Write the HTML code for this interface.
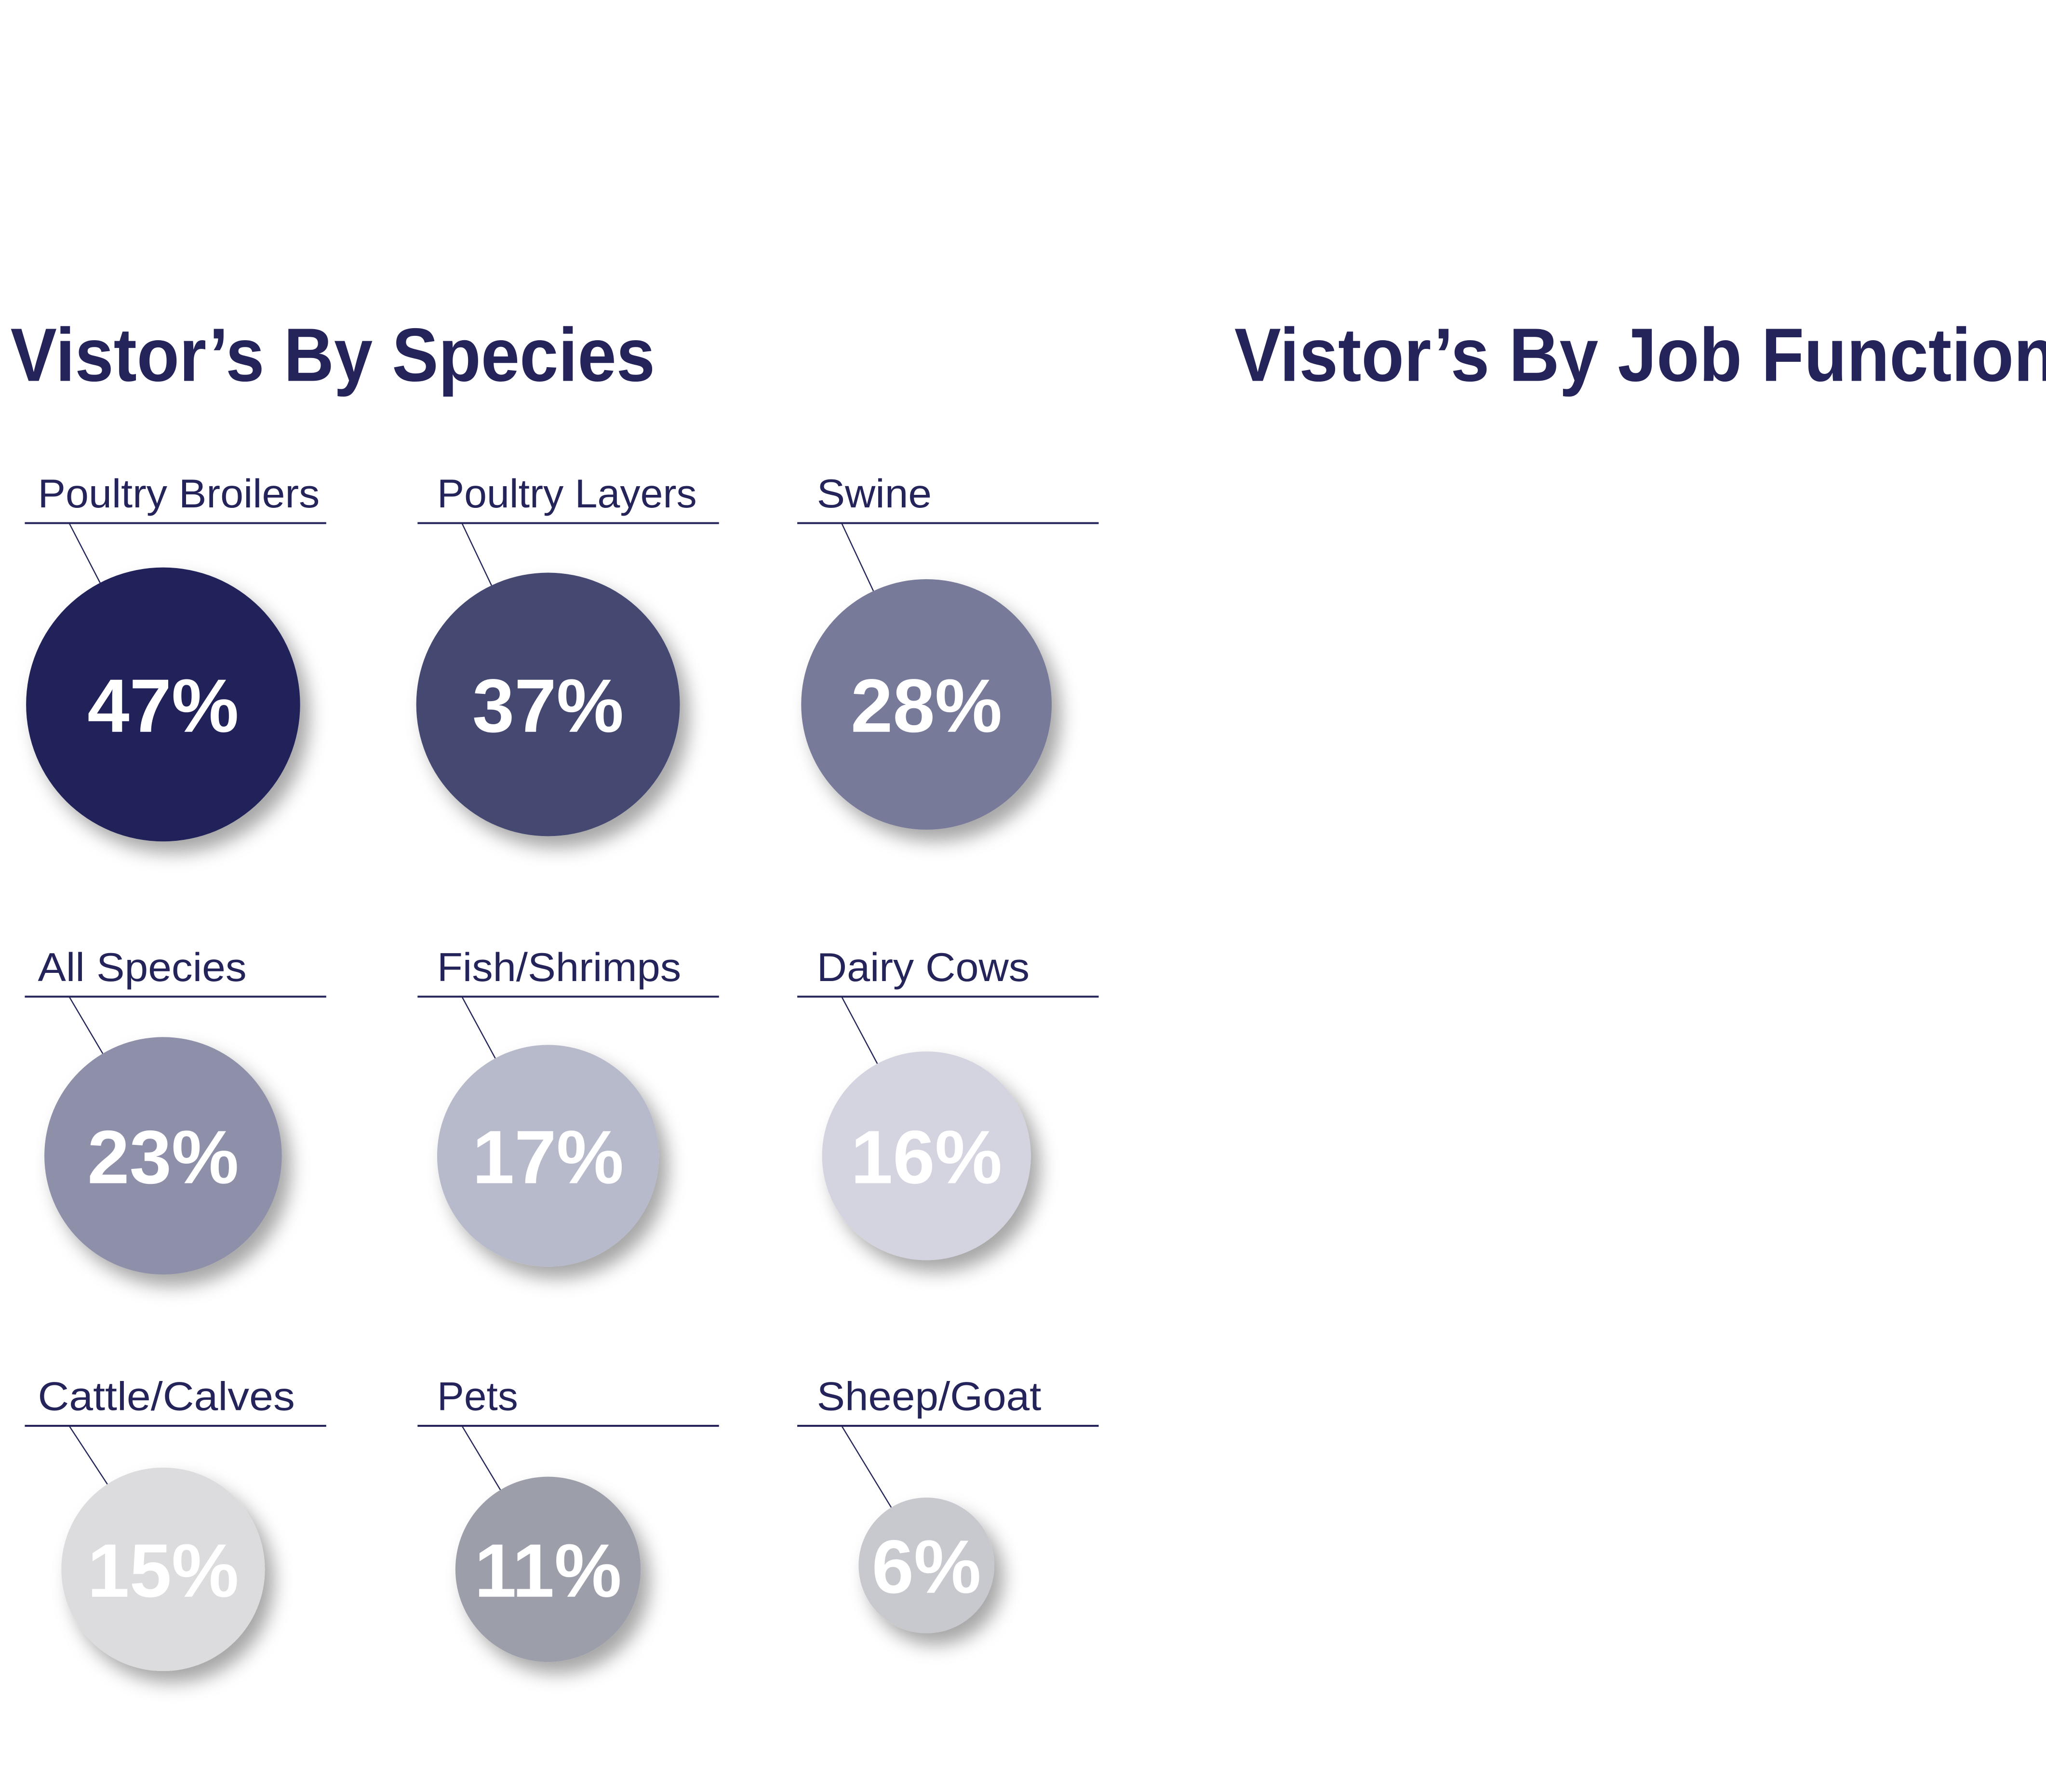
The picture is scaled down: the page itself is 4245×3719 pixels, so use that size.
<!DOCTYPE html>
<html><head><meta charset="utf-8"><style>
html,body{margin:0;padding:0;background:#fff;width:4245px;height:3719px;overflow:hidden}
svg{display:block}
text{font-family:"Liberation Sans",sans-serif}
</style></head><body>
<svg id="chart" width="4245" height="3719" viewBox="0 0 1568 1373.7" xmlns="http://www.w3.org/2000/svg">
<defs><filter id="sh" x="-30%" y="-30%" width="170%" height="170%"><feDropShadow dx="7" dy="9" stdDeviation="7" flood-color="#000" flood-opacity="0.35"/></filter></defs>
<text x="8" y="292" font-size="58" font-weight="bold" fill="#24245a" textLength="494" lengthAdjust="spacingAndGlyphs">Vistor’s By Species</text>
<text x="946" y="292" font-size="58" font-weight="bold" fill="#24245a" textLength="630" lengthAdjust="spacingAndGlyphs">Vistor’s By Job Function</text>
<g id="bubbles"></g>
</svg>
<script>
const categories=["Poultry Broilers","Poultry Layers","Swine","All Species","Fish/Shrimps","Dairy Cows","Cattle/Calves","Pets","Sheep/Goat"];
const values=[47,37,28,23,17,16,15,11,6];
const colors=["#24245a","#444872","#777a99","#8e90aa","#b7bacb","#d3d4df","#dcdcde","#9c9ea9","#c8c9cf"];
const radii=[105,101,96,91,85,80,78,71,52];
const colX=[19,320,611], lineY=[401,764,1093], cY=[540,886,1203], cX=[125,420,710];
const labelOff=[10,15,15];
const labelW=[216,199,88,160,187,163,197,62,172];
const NS="http://www.w3.org/2000/svg";
const g=document.getElementById('bubbles');
function mk(t,a){const e=document.createElementNS(NS,t);for(const k in a)e.setAttribute(k,a[k]);return e;}
categories.forEach((c,i)=>{
  const col=i%3,row=Math.floor(i/3);
  const x0=colX[col],ly=lineY[row],cx=cX[col],r=radii[i];
  const cy=cY[row]-(i===8?3:0);
  const lab=mk('text',{x:x0+labelOff[col],y:ly-12,'font-size':31,fill:'#24245a',textLength:labelW[i],lengthAdjust:'spacingAndGlyphs'});
  lab.textContent=c;
  
  
  g.appendChild(lab);
  const ul=mk('line',{x1:x0,y1:ly,x2:x0+231,y2:ly,stroke:'#24245a','stroke-width':1.5});
  
  
  g.appendChild(ul);
  const sx=x0+34,sy=ly;
  const dx=cx-sx,dy=cy-sy,d=Math.hypot(dx,dy);
  const ex=cx-dx/d*r, ey=cy-dy/d*r;
  const ll=mk('line',{x1:sx,y1:sy,x2:ex,y2:ey,stroke:'#24245a','stroke-width':0.9});
  
  
  g.appendChild(ll);
  const ci=mk('circle',{cx:cx,cy:cy,r:r,fill:colors[i],filter:'url(#sh)'});
  
  
  g.appendChild(ci);
  const v=mk('text',{x:cx,y:cy+21,'text-anchor':'middle','font-size':58,'font-weight':'bold',fill:'#fff'});
  v.textContent=values[i]+'%';
  
  
  g.appendChild(v);
});
</script>
</body></html>
